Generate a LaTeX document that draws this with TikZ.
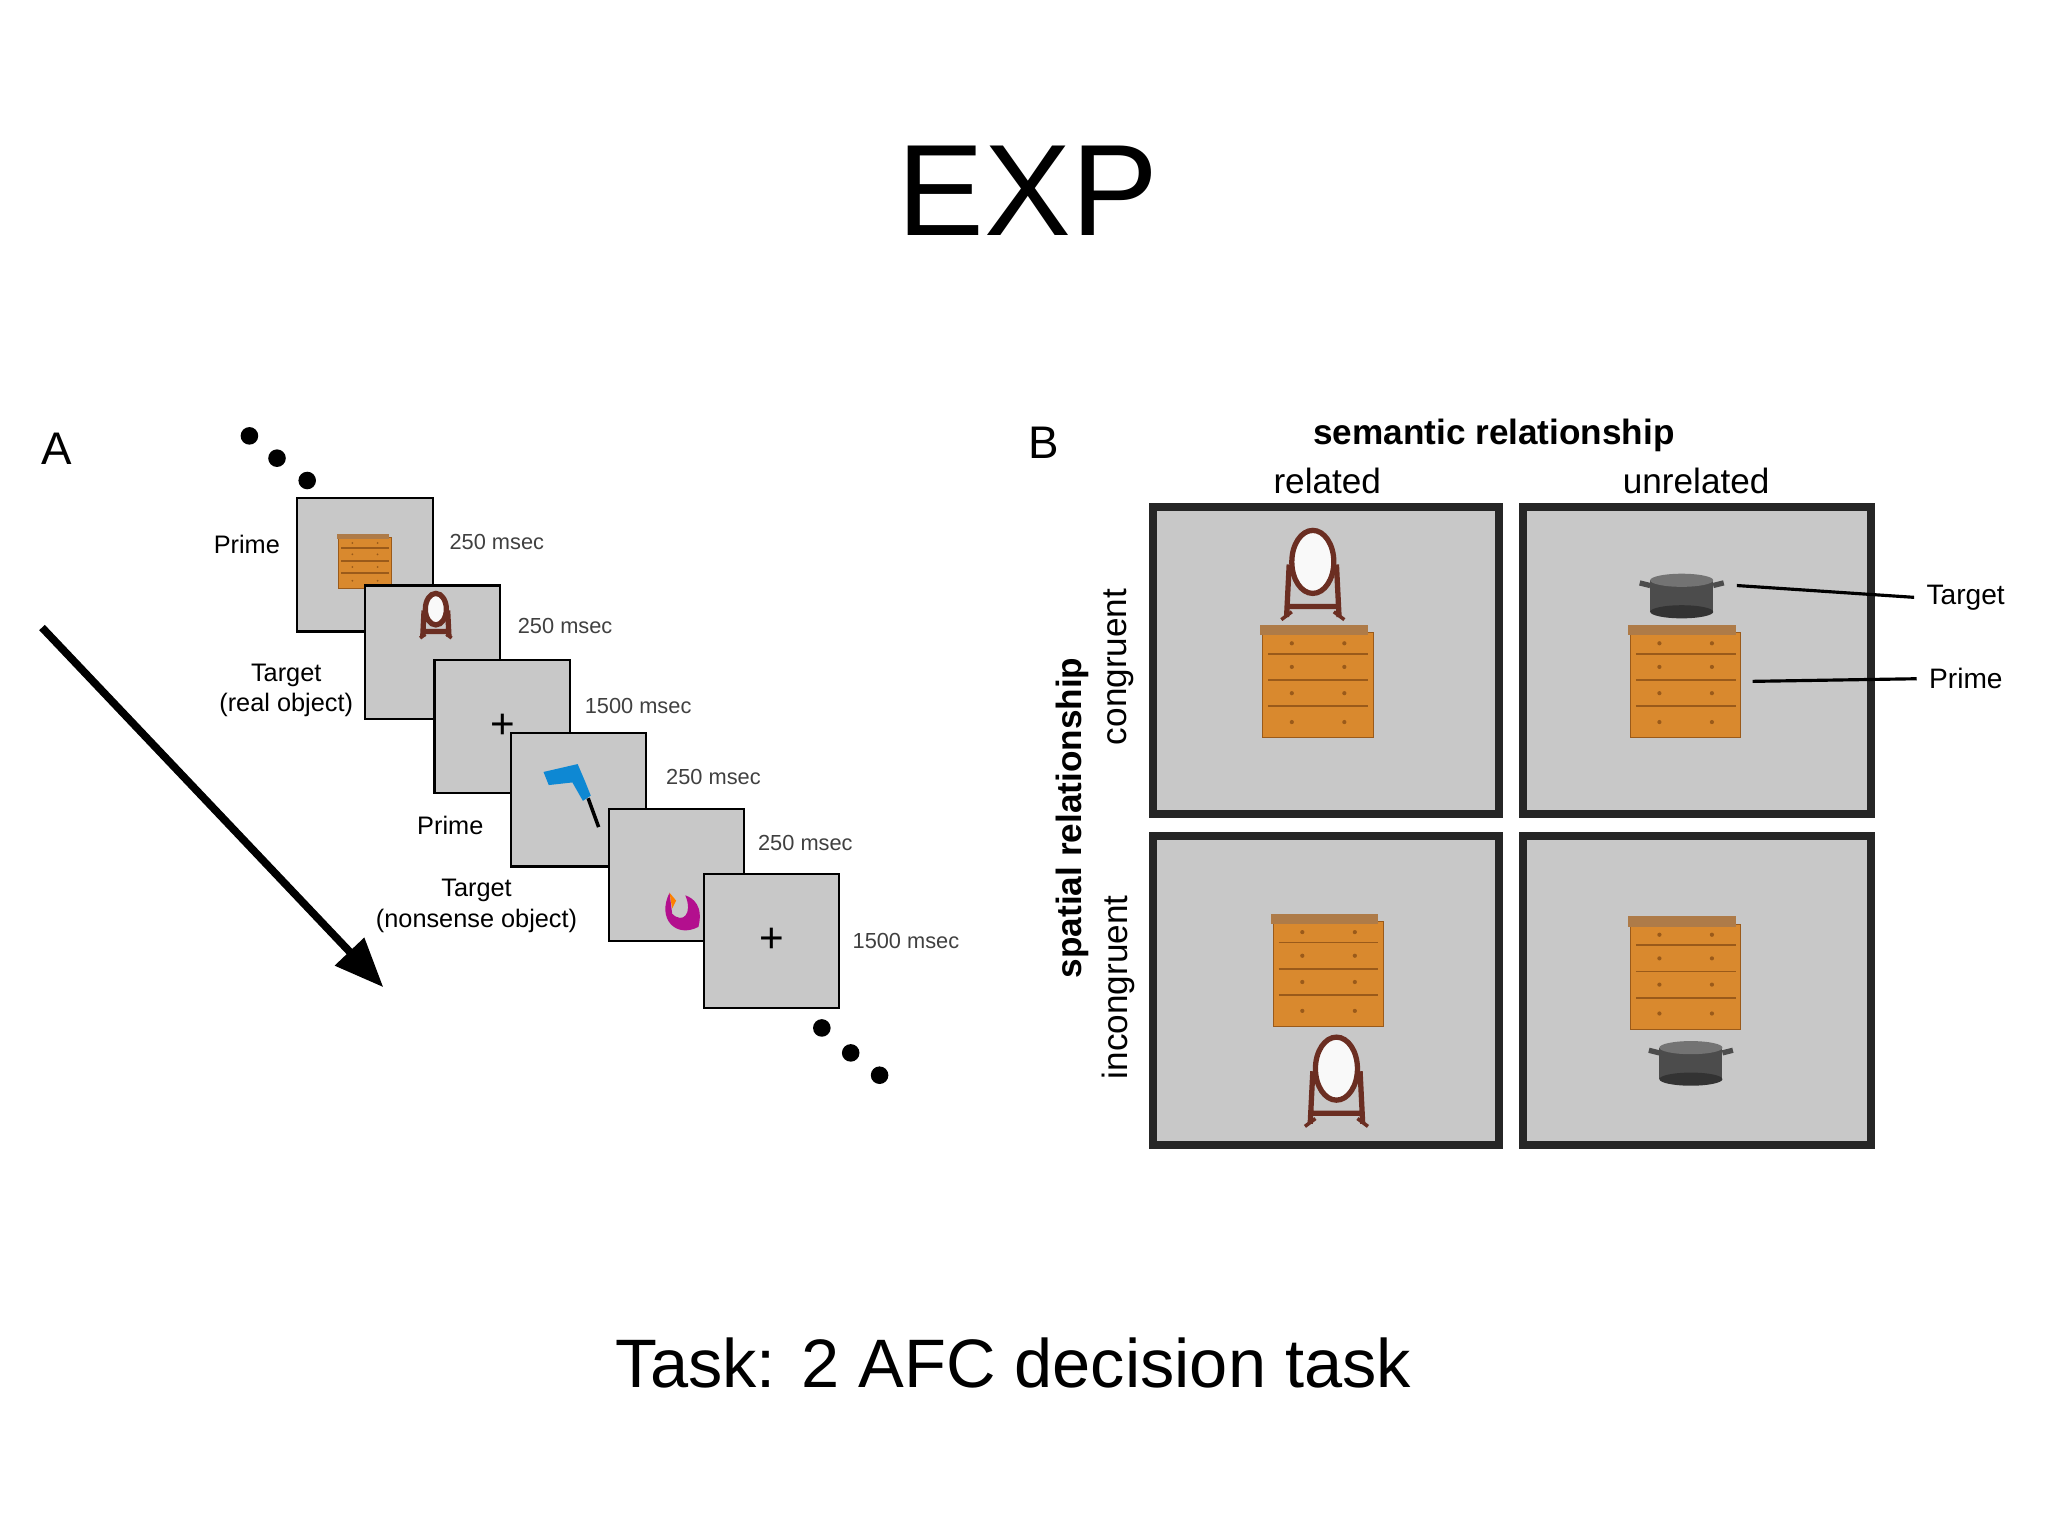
\documentclass[tikz,border=0pt]{standalone}
\usepackage{fontspec}
\setmainfont{Liberation Sans}
\usetikzlibrary{arrows.meta}
\definecolor{panel}{HTML}{C8C8C8}
\definecolor{wood}{HTML}{D9892E}
\definecolor{wooddk}{HTML}{9A5A1A}
\definecolor{mirr}{HTML}{6B2E22}
\begin{document}
\begin{tikzpicture}[x=0.013128cm,y=-0.013128cm,
  frame/.style={draw=black,fill=panel,line width=0.6pt},
  bframe/.style={draw=black!85,fill=panel,line width=2.2pt},
  lab/.style={font=\fontsize{7.2}{8.6}\selectfont,align=center},
  ms/.style={font=\fontsize{6.2}{8}\selectfont,text=black!75,anchor=west},
  blab/.style={font=\fontsize{10}{12}\selectfont},
  dot/.style={circle,fill=black,inner sep=0pt,minimum size=5pt},
  chest/.pic={
    \fill[wood,draw=wooddk,line width=0.3pt] (-42,-38) rectangle (42,42);
    \fill[wooddk!80] (-44,-44) rectangle (38,-36);
    \foreach \yy in {-22,-2,18}{\draw[wooddk,line width=0.5pt] (-38,\yy) -- (38,\yy);}
    \foreach \yy in {-30,-12,8,30}{\fill[wooddk] (-20,\yy) circle (1.6) (20,\yy) circle (1.6);}
  },
  mirror/.pic={
    \fill[white!90!panel,draw=mirr,line width=1.5pt] (0,-8) ellipse (16 and 24);
    \draw[mirr,line width=1.5pt] (-18,-6) -- (-20,34) (18,-6) -- (20,34) (-20,26) -- (20,26);
    \draw[mirr,line width=1pt] (-24,36) -- (-16,30) (24,36) -- (16,30);
  },
  pot/.pic={
    \fill[black!70] (-24,-8) rectangle (24,16);
    \fill[black!55] (0,-8) ellipse (24 and 5);
    \fill[black!80] (0,16) ellipse (24 and 5);
    \draw[black!70,line width=1.5pt] (-24,-4) -- (-32,-6) (24,-4) -- (32,-6);
  }]
\useasboundingbox (0,0) rectangle (1560,1170);
\fill[white] (0,0) rectangle (1560,1170);
\node (title) at (783,145) {\fontsize{37}{42}\selectfont EXP};
\node (task) at (772,1038) {\fontsize{19.5}{23}\selectfont Task: 2 AFC decision task};
% Panel A
\node (A) at (43,342) {\fontsize{13}{15}\selectfont A};
\node[dot] (d1) at (190,332) {};\node[dot] (d2) at (211,349) {};\node[dot] (d3) at (234,366) {};
\node[dot] (d4) at (626,783) {};\node[dot] (d5) at (648,802) {};\node[dot] (d6) at (670,819) {};
\coordinate (as) at (32,478); \coordinate (ae) at (292,752);
\draw[line width=2.2pt,-{Triangle[length=14pt,width=11pt]}] (as) -- (ae);
\draw[frame] (226,379) rectangle (330,481);
\pic[scale=0.48] at (278,428) {chest};
\draw[frame] (278,446) rectangle (381,548);
\pic[scale=0.5] at (332,468) {mirror};
\draw[frame] (331,503) rectangle (434,604);
\node (p1) at (383,553) {\fontsize{12}{12}\selectfont +};
\draw[frame] (389,558) rectangle (492,660);
% drill
\fill[cyan!70!blue] (414,588) -- (440,582) -- (446,596) -- (450,606) -- (444,610) -- (436,596) -- (418,598) -- cycle;
\draw[black,line width=1pt] (448,608) -- (456,630);
\draw[frame] (464,616) rectangle (567,717);
% nonsense
\fill[magenta!70!blue] (510,680) .. controls (500,700) and (515,715) .. (532,706) .. controls (536,690) and (528,684) .. (522,682) .. controls (528,696) and (520,704) .. (512,696) -- cycle;
\fill[orange] (510,680) -- (515,686) -- (512,692) -- cycle;
\draw[frame] (536,666) rectangle (639,768);
\node (p2) at (588,716) {\fontsize{12}{12}\selectfont +};
\node[lab] (l1) at (188,415) {Prime};
\node[lab] (l2) at (218,526) {Target\\(real object)};
\node[lab] (l3) at (343,629) {Prime};
\node[lab] (l4) at (363,690) {Target\\(nonsense object)};
\node[ms] (m1) at (333,413) {250 msec};
\node[ms] (m2) at (385,477) {250 msec};
\node[ms] (m3) at (436,538) {1500 msec};
\node[ms] (m4) at (498,592) {250 msec};
\node[ms] (m5) at (568,642) {250 msec};
\node[ms] (m6) at (640,717) {1500 msec};
% Panel B
\node (B) at (795,337) {\fontsize{13}{15}\selectfont B};
\node[blab,font=\fontsize{10}{12}\selectfont\bfseries] (sem) at (1138,332) {semantic relationship};
\node[blab] (rel) at (1011,366) {related};
\node[blab] (unrel) at (1292,366) {unrelated};
\node[blab,font=\fontsize{10}{12}\selectfont\bfseries,rotate=90] (spat) at (817,623) {spatial relationship};
\node[blab,rotate=90] (cong) at (852,508) {congruent};
\node[blab,rotate=90] (incong) at (852,752) {incongruent};
\draw[bframe] (878,386) rectangle (1142,620);
\draw[bframe] (1160,386) rectangle (1425,620);
\draw[bframe] (878,637) rectangle (1142,872);
\draw[bframe] (1160,637) rectangle (1425,872);
\pic at (1004,520) {chest};
\pic at (1000,436) {mirror};
\pic at (1284,520) {chest};
\pic at (1281,450) {pot};
\pic at (1012,740) {chest};
\pic at (1018,822) {mirror};
\pic at (1284,742) {chest};
\pic at (1288,806) {pot};
\coordinate (tg) at (1323,446); \coordinate (pr) at (1335,519);
\node[lab,font=\fontsize{8}{10}\selectfont,anchor=west] (tl) at (1458,455) {Target};
\node[lab,font=\fontsize{8}{10}\selectfont,anchor=west] (pl) at (1460,517) {Prime};
\draw[line width=0.9pt] (tg) -- (tl.west);
\draw[line width=0.9pt] (pr) -- (pl.west);
\end{tikzpicture}
\end{document}
